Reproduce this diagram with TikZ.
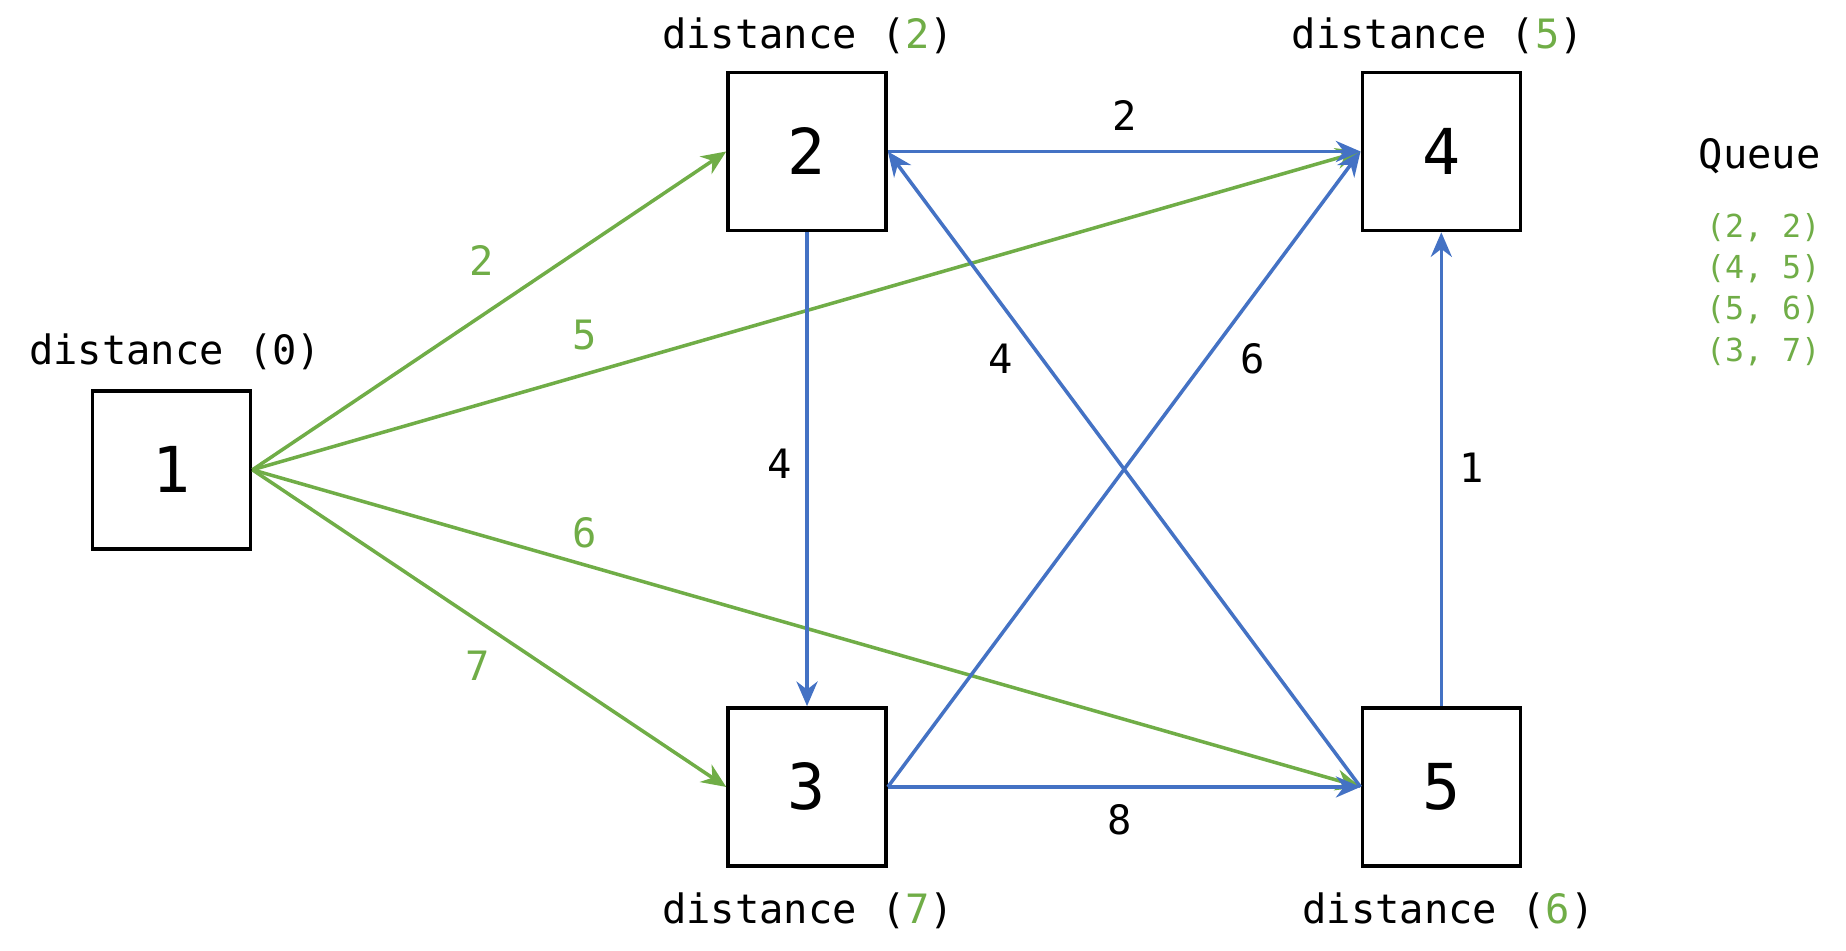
\documentclass[tikz,border=0pt]{standalone}
\usepackage{fontspec}
\setmainfont{DejaVu Sans Mono}
\usepackage{tikz}
\usetikzlibrary{arrows.meta}
\definecolor{grn}{RGB}{112,173,71}
\definecolor{blu}{RGB}{68,114,196}
\tikzstyle{box} = [draw, line width=1pt, minimum width=1.58cm, minimum height=1.58cm, font=\fontsize{18}{20}\selectfont]
\tikzstyle{lbl} = [font=\fontsize{11.5}{13}\selectfont]
\tikzstyle{g} = [grn, line width=1pt, -{Stealth[length=7pt,width=6pt]}]
\tikzstyle{b} = [blu, line width=1pt, -{Stealth[length=7pt,width=6pt]}]

\begin{document}
\begin{tikzpicture}[x=0.01183cm, y=-0.01183cm]
        \useasboundingbox (0,0) rectangle (1560,803);
        \node (n1) [box] at (145,397) {1};
        \node (n2) [box] at (682,128) {2};
        \node (n4) [box] at (1218,128) {4};
        \node (n3) [box] at (682,665) {3};
        \node (n5) [box] at (1218,665) {5};
        \node (d1) [lbl] at (148,297) {distance (0)};
        \node (d2) [lbl] at (683,30) {distance (\textcolor{grn}{2})};
        \node (d4) [lbl] at (1215,30) {distance (\textcolor{grn}{5})};
        \node (d3) [lbl] at (683,770) {distance (\textcolor{grn}{7})};
        \node (d5) [lbl] at (1224,770) {distance (\textcolor{grn}{6})};
        \node (q) [lbl] at (1487,132) {Queue};
        \node (q1) [grn, font=\fontsize{9}{10}\selectfont] at (1490,192) {(2, 2)};
        \node (q2) [grn, font=\fontsize{9}{10}\selectfont] at (1490,227) {(4, 5)};
        \node (q3) [grn, font=\fontsize{9}{10}\selectfont] at (1490,262) {(5, 6)};
        \node (q4) [grn, font=\fontsize{9}{10}\selectfont] at (1490,297) {(3, 7)};
        % green edges
        \draw [g] (n1.east) -- (n2.west);
        \draw [g] (n1.east) -- (n4.west);
        \draw [g] (n1.east) -- (n3.west);
        \draw [g] (n1.east) -- (n5.west);
        % blue edges
        \draw [b] (n2.east) -- (n4.west);
        \draw [b] (n2.south) -- (n3.north);
        \draw [b] (n3.east) -- (n4.west);
        \draw [b] (n3.east) -- (n5.west);
        \draw [b] (n5.west) -- (n2.east);
        \draw [b] (n5.north) -- (n4.south);
        \node [lbl, grn] at (407,220) {2};
        \node [lbl, grn] at (494,283) {5};
        \node [lbl, grn] at (494,450) {6};
        \node [lbl, grn] at (404,563) {7};
        \node [lbl] at (950,98) {2};
        \node [lbl] at (659,392) {4};
        \node [lbl] at (846,303) {4};
        \node [lbl] at (1059,303) {6};
        \node [lbl] at (1244,395) {1};
        \node [lbl] at (946,693) {8};
    \end{tikzpicture}
\end{document}
